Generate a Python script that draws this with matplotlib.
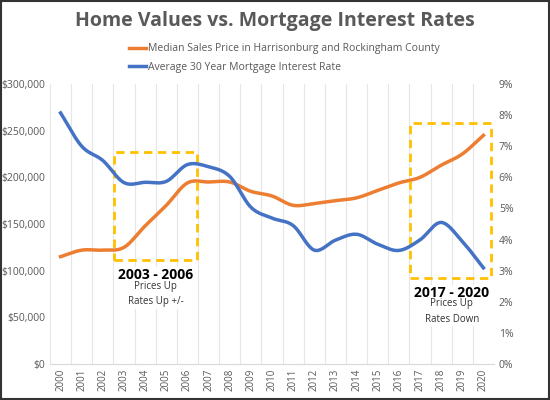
import numpy as np
import matplotlib.pyplot as plt
from matplotlib.patches import Rectangle
from matplotlib.ticker import FuncFormatter

years = [str(y) for y in range(2000, 2021)]
median_price = [115000, 122000, 122000, 125000, 148000, 170000, 194000, 195000, 195000, 185000,
                180000, 170000, 172000, 175000, 178000, 186000, 194000, 200000, 213000, 225000, 245000]
mortgage_rate = [8.07, 7.0, 6.54, 5.83, 5.84, 5.87, 6.41, 6.34, 6.03, 5.04,
                 4.69, 4.45, 3.66, 3.98, 4.17, 3.85, 3.65, 3.99, 4.55, 3.94, 3.09]

orange = '#ED7D31'
blue = '#4472C4'
gold = '#FFC000'
gray = '#595959'


def smooth(y, n=20):
    # catmull-rom, roughly like Excel's smoothed line
    y = np.asarray(y, float)
    p = np.concatenate([[2 * y[0] - y[1]], y, [2 * y[-1] - y[-2]]])
    xs, ys = [], []
    for i in range(len(y) - 1):
        p0, p1, p2, p3 = p[i], p[i + 1], p[i + 2], p[i + 3]
        t = np.linspace(0, 1, n, endpoint=False)
        ys.append(0.5 * (2 * p1 + (-p0 + p2) * t + (2 * p0 - 5 * p1 + 4 * p2 - p3) * t ** 2
                         + (-p0 + 3 * p1 - 3 * p2 + p3) * t ** 3))
        xs.append(i + t)
    xs.append([len(y) - 1])
    ys.append([y[-1]])
    return np.concatenate(xs), np.concatenate(ys)


plt.rcParams['font.family'] = ['Open Sans', 'DejaVu Sans']
fig = plt.figure(figsize=(5.5, 4), dpi=100)
ax = fig.add_axes([50 / 550, 36 / 400, 444 / 550, 280 / 400])
ax2 = ax.twinx()

x = np.arange(len(years))
sx, sy = smooth(median_price)
l1, = ax.plot(sx, sy, color=orange, lw=2.5, zorder=3)
rx, ry = smooth(mortgage_rate)
l2, = ax2.plot(rx, ry, color=blue, lw=2.5, zorder=3)

ax.set_xlim(-0.5, len(years) - 0.5)
ax.set_ylim(0, 300000)
ax2.set_ylim(0, 9)
ax.set_yticks(range(0, 300001, 50000))
ax.yaxis.set_major_formatter(FuncFormatter(lambda v, p: f'${v:,.0f}'))
ax2.set_yticks(range(0, 10))
ax2.yaxis.set_major_formatter(FuncFormatter(lambda v, p: f'{v:.0f}%'))
ax.set_xticks(x)
ax.set_xticklabels(years, rotation=90, fontsize=7, color=gray)
ax.set_xticks(np.arange(-0.5, len(years)), minor=True)
ax.grid(which='minor', axis='x', color='#E6E6E6', lw=0.8)
ax.tick_params(which='both', length=0)
ax.tick_params(axis='y', labelsize=7.5, labelcolor=gray)
ax2.tick_params(length=0, labelsize=7.5, labelcolor=gray)
for a in (ax, ax2):
    for s in a.spines.values():
        s.set_visible(False)
ax.spines['bottom'].set_visible(True)
ax.spines['bottom'].set_color('#D9D9D9')

# highlight boxes
ax.add_patch(Rectangle((2.55, 111000), 3.88, 116000, fill=False, ec=gold, lw=2, ls=(0, (3, 2)), zorder=4))
ax.add_patch(Rectangle((16.54, 92500), 3.81, 165500, fill=False, ec=gold, lw=2, ls=(0, (3, 2)), zorder=4))
ax.text(4.5, 95000, '2003 - 2006', ha='center', va='center', fontsize=10, fontweight='bold', zorder=5,
        bbox=dict(fc='white', ec='none', pad=1))
ax.text(4.5, 75000, 'Prices Up\nRates Up +/-', ha='center', va='center', fontsize=7, color='#333333',
        linespacing=1.6, zorder=5, bbox=dict(fc='white', ec='none', pad=1))
ax.text(18.5, 76000, '2017 - 2020', ha='center', va='center', fontsize=10, fontweight='bold', zorder=5,
        bbox=dict(fc='white', ec='none', pad=1))
ax.text(18.5, 56000, 'Prices Up\nRates Down', ha='center', va='center', fontsize=7, color='#333333',
        linespacing=1.6, zorder=5, bbox=dict(fc='white', ec='none', pad=1))

fig.text(0.5, 0.948, 'Home Values vs. Mortgage Interest Rates', ha='center', va='center',
         fontsize=14, fontweight='bold', color=gray)
fig.legend([l1, l2], ['Median Sales Price in Harrisonburg and Rockingham County',
                      'Average 30 Year Mortgage Interest Rate'],
           loc='center left', bbox_to_anchor=(120 / 550, 0.855), frameon=False, fontsize=7.5,
           handlelength=1.6, handletextpad=0.2, labelspacing=0.7, labelcolor=gray)
fig.add_artist(Rectangle((0.002, 0.002), 0.996, 0.996, transform=fig.transFigure, fill=False,
                         ec='#333333', lw=1.5))

fig.savefig('out.png', dpi=100)
